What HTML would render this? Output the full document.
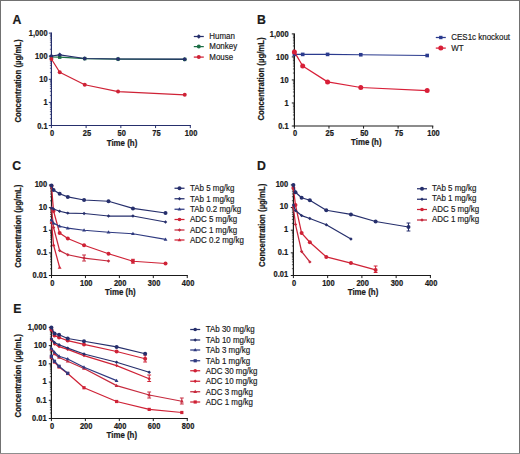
<!DOCTYPE html>
<html><head><meta charset="utf-8"><style>
html,body{margin:0;padding:0;background:#fff;}
body{width:520px;height:454px;overflow:hidden;}
svg{display:block;font-family:"Liberation Sans", sans-serif;}
</style></head><body>
<svg width="520" height="454" viewBox="0 0 520 454">
<rect x="0" y="0" width="520" height="454" fill="#fff"/>
<line x1="51.40" y1="32.60" x2="51.40" y2="126.10" stroke="#262f6c" stroke-width="1.2"/>
<line x1="50.80" y1="125.50" x2="190.90" y2="125.50" stroke="#262f6c" stroke-width="1.2"/>
<line x1="48.80" y1="125.50" x2="51.40" y2="125.50" stroke="#262f6c" stroke-width="1.0"/>
<line x1="49.90" y1="118.55" x2="51.40" y2="118.55" stroke="#262f6c" stroke-width="0.7"/>
<line x1="49.90" y1="114.48" x2="51.40" y2="114.48" stroke="#262f6c" stroke-width="0.7"/>
<line x1="49.90" y1="111.59" x2="51.40" y2="111.59" stroke="#262f6c" stroke-width="0.7"/>
<line x1="49.90" y1="109.35" x2="51.40" y2="109.35" stroke="#262f6c" stroke-width="0.7"/>
<line x1="49.90" y1="107.52" x2="51.40" y2="107.52" stroke="#262f6c" stroke-width="0.7"/>
<line x1="49.90" y1="105.98" x2="51.40" y2="105.98" stroke="#262f6c" stroke-width="0.7"/>
<line x1="49.90" y1="104.64" x2="51.40" y2="104.64" stroke="#262f6c" stroke-width="0.7"/>
<line x1="49.90" y1="103.46" x2="51.40" y2="103.46" stroke="#262f6c" stroke-width="0.7"/>
<line x1="48.80" y1="102.40" x2="51.40" y2="102.40" stroke="#262f6c" stroke-width="1.0"/>
<line x1="49.90" y1="95.45" x2="51.40" y2="95.45" stroke="#262f6c" stroke-width="0.7"/>
<line x1="49.90" y1="91.38" x2="51.40" y2="91.38" stroke="#262f6c" stroke-width="0.7"/>
<line x1="49.90" y1="88.49" x2="51.40" y2="88.49" stroke="#262f6c" stroke-width="0.7"/>
<line x1="49.90" y1="86.25" x2="51.40" y2="86.25" stroke="#262f6c" stroke-width="0.7"/>
<line x1="49.90" y1="84.42" x2="51.40" y2="84.42" stroke="#262f6c" stroke-width="0.7"/>
<line x1="49.90" y1="82.88" x2="51.40" y2="82.88" stroke="#262f6c" stroke-width="0.7"/>
<line x1="49.90" y1="81.54" x2="51.40" y2="81.54" stroke="#262f6c" stroke-width="0.7"/>
<line x1="49.90" y1="80.36" x2="51.40" y2="80.36" stroke="#262f6c" stroke-width="0.7"/>
<line x1="48.80" y1="79.30" x2="51.40" y2="79.30" stroke="#262f6c" stroke-width="1.0"/>
<line x1="49.90" y1="72.35" x2="51.40" y2="72.35" stroke="#262f6c" stroke-width="0.7"/>
<line x1="49.90" y1="68.28" x2="51.40" y2="68.28" stroke="#262f6c" stroke-width="0.7"/>
<line x1="49.90" y1="65.39" x2="51.40" y2="65.39" stroke="#262f6c" stroke-width="0.7"/>
<line x1="49.90" y1="63.15" x2="51.40" y2="63.15" stroke="#262f6c" stroke-width="0.7"/>
<line x1="49.90" y1="61.32" x2="51.40" y2="61.32" stroke="#262f6c" stroke-width="0.7"/>
<line x1="49.90" y1="59.78" x2="51.40" y2="59.78" stroke="#262f6c" stroke-width="0.7"/>
<line x1="49.90" y1="58.44" x2="51.40" y2="58.44" stroke="#262f6c" stroke-width="0.7"/>
<line x1="49.90" y1="57.26" x2="51.40" y2="57.26" stroke="#262f6c" stroke-width="0.7"/>
<line x1="48.80" y1="56.20" x2="51.40" y2="56.20" stroke="#262f6c" stroke-width="1.0"/>
<line x1="49.90" y1="49.25" x2="51.40" y2="49.25" stroke="#262f6c" stroke-width="0.7"/>
<line x1="49.90" y1="45.18" x2="51.40" y2="45.18" stroke="#262f6c" stroke-width="0.7"/>
<line x1="49.90" y1="42.29" x2="51.40" y2="42.29" stroke="#262f6c" stroke-width="0.7"/>
<line x1="49.90" y1="40.05" x2="51.40" y2="40.05" stroke="#262f6c" stroke-width="0.7"/>
<line x1="49.90" y1="38.22" x2="51.40" y2="38.22" stroke="#262f6c" stroke-width="0.7"/>
<line x1="49.90" y1="36.68" x2="51.40" y2="36.68" stroke="#262f6c" stroke-width="0.7"/>
<line x1="49.90" y1="35.34" x2="51.40" y2="35.34" stroke="#262f6c" stroke-width="0.7"/>
<line x1="49.90" y1="34.16" x2="51.40" y2="34.16" stroke="#262f6c" stroke-width="0.7"/>
<line x1="48.80" y1="33.10" x2="51.40" y2="33.10" stroke="#262f6c" stroke-width="1.0"/>
<line x1="51.40" y1="125.50" x2="51.40" y2="128.10" stroke="#262f6c" stroke-width="1.0"/>
<text transform="translate(52.20 135.50) scale(1 1.1)" x="0" y="0" font-size="7.5" font-weight="bold" text-anchor="middle" fill="#1a1a1a" stroke="#1a1a1a" stroke-width="0.2">0</text>
<line x1="86.12" y1="125.50" x2="86.12" y2="128.10" stroke="#262f6c" stroke-width="1.0"/>
<text transform="translate(86.92 135.50) scale(1 1.1)" x="0" y="0" font-size="7.5" font-weight="bold" text-anchor="middle" fill="#1a1a1a" stroke="#1a1a1a" stroke-width="0.2">25</text>
<line x1="120.85" y1="125.50" x2="120.85" y2="128.10" stroke="#262f6c" stroke-width="1.0"/>
<text transform="translate(121.65 135.50) scale(1 1.1)" x="0" y="0" font-size="7.5" font-weight="bold" text-anchor="middle" fill="#1a1a1a" stroke="#1a1a1a" stroke-width="0.2">50</text>
<line x1="155.57" y1="125.50" x2="155.57" y2="128.10" stroke="#262f6c" stroke-width="1.0"/>
<text transform="translate(156.38 135.50) scale(1 1.1)" x="0" y="0" font-size="7.5" font-weight="bold" text-anchor="middle" fill="#1a1a1a" stroke="#1a1a1a" stroke-width="0.2">75</text>
<line x1="190.30" y1="125.50" x2="190.30" y2="128.10" stroke="#262f6c" stroke-width="1.0"/>
<text transform="translate(191.10 135.50) scale(1 1.1)" x="0" y="0" font-size="7.5" font-weight="bold" text-anchor="middle" fill="#1a1a1a" stroke="#1a1a1a" stroke-width="0.2">100</text>
<text transform="translate(47.60 36.10) scale(1 1.1)" x="0" y="0" font-size="7.5" font-weight="bold" text-anchor="end" fill="#1a1a1a" stroke="#1a1a1a" stroke-width="0.2">1,000</text>
<text transform="translate(47.60 59.20) scale(1 1.1)" x="0" y="0" font-size="7.5" font-weight="bold" text-anchor="end" fill="#1a1a1a" stroke="#1a1a1a" stroke-width="0.2">100</text>
<text transform="translate(47.60 82.30) scale(1 1.1)" x="0" y="0" font-size="7.5" font-weight="bold" text-anchor="end" fill="#1a1a1a" stroke="#1a1a1a" stroke-width="0.2">10</text>
<text transform="translate(47.60 105.40) scale(1 1.1)" x="0" y="0" font-size="7.5" font-weight="bold" text-anchor="end" fill="#1a1a1a" stroke="#1a1a1a" stroke-width="0.2">1</text>
<text transform="translate(47.60 128.50) scale(1 1.1)" x="0" y="0" font-size="7.5" font-weight="bold" text-anchor="end" fill="#1a1a1a" stroke="#1a1a1a" stroke-width="0.2">0.1</text>
<path d="M51.40 57.00 L59.73 57.20 L84.74 58.60 L118.07 59.10 L184.74 59.40" fill="none" stroke="#1b6e45" stroke-width="1.25" stroke-linejoin="round"/>
<rect x="49.70" y="55.30" width="3.40" height="3.40" fill="#1b6e45"/>
<rect x="58.03" y="55.50" width="3.40" height="3.40" fill="#1b6e45"/>
<rect x="83.04" y="56.90" width="3.40" height="3.40" fill="#1b6e45"/>
<rect x="116.37" y="57.40" width="3.40" height="3.40" fill="#1b6e45"/>
<rect x="183.04" y="57.70" width="3.40" height="3.40" fill="#1b6e45"/>
<path d="M51.40 56.00 L59.73 54.80 L84.74 58.50 L118.07 59.00 L184.74 59.20" fill="none" stroke="#262f6c" stroke-width="1.25" stroke-linejoin="round"/>
<path d="M51.40 53.70L53.70 56.00L51.40 58.30L49.10 56.00Z" fill="#262f6c"/>
<path d="M59.73 52.50L62.03 54.80L59.73 57.10L57.43 54.80Z" fill="#262f6c"/>
<path d="M84.74 56.20L87.04 58.50L84.74 60.80L82.44 58.50Z" fill="#262f6c"/>
<path d="M118.07 56.70L120.37 59.00L118.07 61.30L115.77 59.00Z" fill="#262f6c"/>
<path d="M184.74 56.90L187.04 59.20L184.74 61.50L182.44 59.20Z" fill="#262f6c"/>
<path d="M51.40 59.00 L59.73 72.25 L84.74 84.75 L118.07 91.60 L184.74 94.80" fill="none" stroke="#cf2236" stroke-width="1.25" stroke-linejoin="round"/>
<circle cx="51.40" cy="59.00" r="2.0" fill="#cf2236"/>
<circle cx="59.73" cy="72.25" r="2.0" fill="#cf2236"/>
<circle cx="84.74" cy="84.75" r="2.0" fill="#cf2236"/>
<circle cx="118.07" cy="91.60" r="2.0" fill="#cf2236"/>
<circle cx="184.74" cy="94.80" r="2.0" fill="#cf2236"/>
<text transform="translate(12.60 24.00) scale(1 1.1)" x="0" y="0" font-size="12.3" font-weight="bold" text-anchor="start" fill="#1a1a1a" stroke="#1a1a1a" stroke-width="0.2">A</text>
<text transform="translate(20.90 80.90) rotate(-90) scale(1 1.1)" x="0" y="0" font-size="7.8" font-weight="bold" text-anchor="middle" fill="#1a1a1a" stroke="#1a1a1a" stroke-width="0.2">Concentration (µg/mL)</text>
<text transform="translate(122.00 145.50) scale(1 1.1)" x="0" y="0" font-size="7.9" font-weight="bold" text-anchor="middle" fill="#1a1a1a" stroke="#1a1a1a" stroke-width="0.2">Time (h)</text>
<line x1="193.80" y1="36.50" x2="203.80" y2="36.50" stroke="#262f6c" stroke-width="1.25"/>
<path d="M198.80 34.20L201.10 36.50L198.80 38.80L196.50 36.50Z" fill="#262f6c"/>
<text transform="translate(209.30 39.30) scale(1 1.06)" x="0" y="0" font-size="7.95" font-weight="normal" text-anchor="start" fill="#1a1a1a" stroke="#1a1a1a" stroke-width="0.16">Human</text>
<line x1="193.80" y1="46.60" x2="203.80" y2="46.60" stroke="#1b6e45" stroke-width="1.25"/>
<circle cx="198.80" cy="46.60" r="2.0" fill="#1b6e45"/>
<text transform="translate(209.30 49.40) scale(1 1.06)" x="0" y="0" font-size="7.95" font-weight="normal" text-anchor="start" fill="#1a1a1a" stroke="#1a1a1a" stroke-width="0.16">Monkey</text>
<line x1="193.80" y1="57.10" x2="203.80" y2="57.10" stroke="#cf2236" stroke-width="1.25"/>
<circle cx="198.80" cy="57.10" r="2.0" fill="#cf2236"/>
<text transform="translate(209.30 59.90) scale(1 1.06)" x="0" y="0" font-size="7.95" font-weight="normal" text-anchor="start" fill="#1a1a1a" stroke="#1a1a1a" stroke-width="0.16">Mouse</text>
<line x1="294.40" y1="33.40" x2="294.40" y2="126.60" stroke="#1a1a1a" stroke-width="1.2"/>
<line x1="293.80" y1="126.00" x2="433.30" y2="126.00" stroke="#1a1a1a" stroke-width="1.2"/>
<line x1="291.80" y1="126.00" x2="294.40" y2="126.00" stroke="#1a1a1a" stroke-width="1.0"/>
<line x1="292.90" y1="119.07" x2="294.40" y2="119.07" stroke="#1a1a1a" stroke-width="0.7"/>
<line x1="292.90" y1="115.01" x2="294.40" y2="115.01" stroke="#1a1a1a" stroke-width="0.7"/>
<line x1="292.90" y1="112.14" x2="294.40" y2="112.14" stroke="#1a1a1a" stroke-width="0.7"/>
<line x1="292.90" y1="109.91" x2="294.40" y2="109.91" stroke="#1a1a1a" stroke-width="0.7"/>
<line x1="292.90" y1="108.08" x2="294.40" y2="108.08" stroke="#1a1a1a" stroke-width="0.7"/>
<line x1="292.90" y1="106.54" x2="294.40" y2="106.54" stroke="#1a1a1a" stroke-width="0.7"/>
<line x1="292.90" y1="105.21" x2="294.40" y2="105.21" stroke="#1a1a1a" stroke-width="0.7"/>
<line x1="292.90" y1="104.03" x2="294.40" y2="104.03" stroke="#1a1a1a" stroke-width="0.7"/>
<line x1="291.80" y1="102.97" x2="294.40" y2="102.97" stroke="#1a1a1a" stroke-width="1.0"/>
<line x1="292.90" y1="96.04" x2="294.40" y2="96.04" stroke="#1a1a1a" stroke-width="0.7"/>
<line x1="292.90" y1="91.99" x2="294.40" y2="91.99" stroke="#1a1a1a" stroke-width="0.7"/>
<line x1="292.90" y1="89.11" x2="294.40" y2="89.11" stroke="#1a1a1a" stroke-width="0.7"/>
<line x1="292.90" y1="86.88" x2="294.40" y2="86.88" stroke="#1a1a1a" stroke-width="0.7"/>
<line x1="292.90" y1="85.06" x2="294.40" y2="85.06" stroke="#1a1a1a" stroke-width="0.7"/>
<line x1="292.90" y1="83.52" x2="294.40" y2="83.52" stroke="#1a1a1a" stroke-width="0.7"/>
<line x1="292.90" y1="82.18" x2="294.40" y2="82.18" stroke="#1a1a1a" stroke-width="0.7"/>
<line x1="292.90" y1="81.00" x2="294.40" y2="81.00" stroke="#1a1a1a" stroke-width="0.7"/>
<line x1="291.80" y1="79.95" x2="294.40" y2="79.95" stroke="#1a1a1a" stroke-width="1.0"/>
<line x1="292.90" y1="73.02" x2="294.40" y2="73.02" stroke="#1a1a1a" stroke-width="0.7"/>
<line x1="292.90" y1="68.96" x2="294.40" y2="68.96" stroke="#1a1a1a" stroke-width="0.7"/>
<line x1="292.90" y1="66.09" x2="294.40" y2="66.09" stroke="#1a1a1a" stroke-width="0.7"/>
<line x1="292.90" y1="63.86" x2="294.40" y2="63.86" stroke="#1a1a1a" stroke-width="0.7"/>
<line x1="292.90" y1="62.03" x2="294.40" y2="62.03" stroke="#1a1a1a" stroke-width="0.7"/>
<line x1="292.90" y1="60.49" x2="294.40" y2="60.49" stroke="#1a1a1a" stroke-width="0.7"/>
<line x1="292.90" y1="59.16" x2="294.40" y2="59.16" stroke="#1a1a1a" stroke-width="0.7"/>
<line x1="292.90" y1="57.98" x2="294.40" y2="57.98" stroke="#1a1a1a" stroke-width="0.7"/>
<line x1="291.80" y1="56.92" x2="294.40" y2="56.92" stroke="#1a1a1a" stroke-width="1.0"/>
<line x1="292.90" y1="49.99" x2="294.40" y2="49.99" stroke="#1a1a1a" stroke-width="0.7"/>
<line x1="292.90" y1="45.94" x2="294.40" y2="45.94" stroke="#1a1a1a" stroke-width="0.7"/>
<line x1="292.90" y1="43.06" x2="294.40" y2="43.06" stroke="#1a1a1a" stroke-width="0.7"/>
<line x1="292.90" y1="40.83" x2="294.40" y2="40.83" stroke="#1a1a1a" stroke-width="0.7"/>
<line x1="292.90" y1="39.01" x2="294.40" y2="39.01" stroke="#1a1a1a" stroke-width="0.7"/>
<line x1="292.90" y1="37.47" x2="294.40" y2="37.47" stroke="#1a1a1a" stroke-width="0.7"/>
<line x1="292.90" y1="36.13" x2="294.40" y2="36.13" stroke="#1a1a1a" stroke-width="0.7"/>
<line x1="292.90" y1="34.95" x2="294.40" y2="34.95" stroke="#1a1a1a" stroke-width="0.7"/>
<line x1="291.80" y1="33.90" x2="294.40" y2="33.90" stroke="#1a1a1a" stroke-width="1.0"/>
<line x1="294.40" y1="126.00" x2="294.40" y2="128.60" stroke="#1a1a1a" stroke-width="1.0"/>
<text transform="translate(295.20 136.00) scale(1 1.1)" x="0" y="0" font-size="7.5" font-weight="bold" text-anchor="middle" fill="#1a1a1a" stroke="#1a1a1a" stroke-width="0.2">0</text>
<line x1="328.97" y1="126.00" x2="328.97" y2="128.60" stroke="#1a1a1a" stroke-width="1.0"/>
<text transform="translate(329.77 136.00) scale(1 1.1)" x="0" y="0" font-size="7.5" font-weight="bold" text-anchor="middle" fill="#1a1a1a" stroke="#1a1a1a" stroke-width="0.2">25</text>
<line x1="363.55" y1="126.00" x2="363.55" y2="128.60" stroke="#1a1a1a" stroke-width="1.0"/>
<text transform="translate(364.35 136.00) scale(1 1.1)" x="0" y="0" font-size="7.5" font-weight="bold" text-anchor="middle" fill="#1a1a1a" stroke="#1a1a1a" stroke-width="0.2">50</text>
<line x1="398.12" y1="126.00" x2="398.12" y2="128.60" stroke="#1a1a1a" stroke-width="1.0"/>
<text transform="translate(398.93 136.00) scale(1 1.1)" x="0" y="0" font-size="7.5" font-weight="bold" text-anchor="middle" fill="#1a1a1a" stroke="#1a1a1a" stroke-width="0.2">75</text>
<line x1="432.70" y1="126.00" x2="432.70" y2="128.60" stroke="#1a1a1a" stroke-width="1.0"/>
<text transform="translate(433.50 136.00) scale(1 1.1)" x="0" y="0" font-size="7.5" font-weight="bold" text-anchor="middle" fill="#1a1a1a" stroke="#1a1a1a" stroke-width="0.2">100</text>
<text transform="translate(288.60 36.60) scale(1 1.1)" x="0" y="0" font-size="7.5" font-weight="bold" text-anchor="end" fill="#1a1a1a" stroke="#1a1a1a" stroke-width="0.2">1,000</text>
<text transform="translate(288.60 59.62) scale(1 1.1)" x="0" y="0" font-size="7.5" font-weight="bold" text-anchor="end" fill="#1a1a1a" stroke="#1a1a1a" stroke-width="0.2">100</text>
<text transform="translate(288.60 82.65) scale(1 1.1)" x="0" y="0" font-size="7.5" font-weight="bold" text-anchor="end" fill="#1a1a1a" stroke="#1a1a1a" stroke-width="0.2">10</text>
<text transform="translate(288.60 105.67) scale(1 1.1)" x="0" y="0" font-size="7.5" font-weight="bold" text-anchor="end" fill="#1a1a1a" stroke="#1a1a1a" stroke-width="0.2">1</text>
<text transform="translate(288.60 128.70) scale(1 1.1)" x="0" y="0" font-size="7.5" font-weight="bold" text-anchor="end" fill="#1a1a1a" stroke="#1a1a1a" stroke-width="0.2">0.1</text>
<path d="M294.40 54.40 L302.70 54.40 L327.59 54.40 L360.78 54.75 L427.17 55.50" fill="none" stroke="#2b3b8e" stroke-width="1.25" stroke-linejoin="round"/>
<rect x="292.60" y="52.60" width="3.60" height="3.60" fill="#2b3b8e"/>
<rect x="300.90" y="52.60" width="3.60" height="3.60" fill="#2b3b8e"/>
<rect x="325.79" y="52.60" width="3.60" height="3.60" fill="#2b3b8e"/>
<rect x="358.98" y="52.95" width="3.60" height="3.60" fill="#2b3b8e"/>
<rect x="425.37" y="53.70" width="3.60" height="3.60" fill="#2b3b8e"/>
<path d="M294.40 51.90 L302.70 66.00 L327.59 81.90 L360.78 87.50 L427.17 90.60" fill="none" stroke="#d81f38" stroke-width="1.25" stroke-linejoin="round"/>
<circle cx="294.40" cy="51.90" r="2.5" fill="#d81f38"/>
<circle cx="302.70" cy="66.00" r="2.5" fill="#d81f38"/>
<circle cx="327.59" cy="81.90" r="2.5" fill="#d81f38"/>
<circle cx="360.78" cy="87.50" r="2.5" fill="#d81f38"/>
<circle cx="427.17" cy="90.60" r="2.5" fill="#d81f38"/>
<text transform="translate(257.00 23.80) scale(1 1.1)" x="0" y="0" font-size="12.3" font-weight="bold" text-anchor="start" fill="#1a1a1a" stroke="#1a1a1a" stroke-width="0.2">B</text>
<text transform="translate(264.40 79.00) rotate(-90) scale(1 1.1)" x="0" y="0" font-size="7.8" font-weight="bold" text-anchor="middle" fill="#1a1a1a" stroke="#1a1a1a" stroke-width="0.2">Concentration (µg/mL)</text>
<text transform="translate(366.30 145.30) scale(1 1.1)" x="0" y="0" font-size="7.9" font-weight="bold" text-anchor="middle" fill="#1a1a1a" stroke="#1a1a1a" stroke-width="0.2">Time (h)</text>
<line x1="435.80" y1="37.50" x2="445.80" y2="37.50" stroke="#2b3b8e" stroke-width="1.25"/>
<rect x="439.10" y="35.80" width="3.40" height="3.40" fill="#2b3b8e"/>
<text transform="translate(451.30 40.30) scale(1 1.06)" x="0" y="0" font-size="7.95" font-weight="normal" text-anchor="start" fill="#1a1a1a" stroke="#1a1a1a" stroke-width="0.16">CES1c knockout</text>
<line x1="435.80" y1="48.10" x2="445.80" y2="48.10" stroke="#d81f38" stroke-width="1.25"/>
<circle cx="440.80" cy="48.10" r="2.5" fill="#d81f38"/>
<text transform="translate(451.30 50.90) scale(1 1.06)" x="0" y="0" font-size="7.95" font-weight="normal" text-anchor="start" fill="#1a1a1a" stroke="#1a1a1a" stroke-width="0.16">WT</text>
<line x1="51.50" y1="184.50" x2="51.50" y2="276.10" stroke="#1a1a1a" stroke-width="1.2"/>
<line x1="50.90" y1="275.50" x2="187.85" y2="275.50" stroke="#1a1a1a" stroke-width="1.2"/>
<line x1="48.90" y1="275.50" x2="51.50" y2="275.50" stroke="#1a1a1a" stroke-width="1.0"/>
<line x1="50.00" y1="268.69" x2="51.50" y2="268.69" stroke="#1a1a1a" stroke-width="0.7"/>
<line x1="50.00" y1="264.71" x2="51.50" y2="264.71" stroke="#1a1a1a" stroke-width="0.7"/>
<line x1="50.00" y1="261.88" x2="51.50" y2="261.88" stroke="#1a1a1a" stroke-width="0.7"/>
<line x1="50.00" y1="259.69" x2="51.50" y2="259.69" stroke="#1a1a1a" stroke-width="0.7"/>
<line x1="50.00" y1="257.89" x2="51.50" y2="257.89" stroke="#1a1a1a" stroke-width="0.7"/>
<line x1="50.00" y1="256.38" x2="51.50" y2="256.38" stroke="#1a1a1a" stroke-width="0.7"/>
<line x1="50.00" y1="255.07" x2="51.50" y2="255.07" stroke="#1a1a1a" stroke-width="0.7"/>
<line x1="50.00" y1="253.91" x2="51.50" y2="253.91" stroke="#1a1a1a" stroke-width="0.7"/>
<line x1="48.90" y1="252.88" x2="51.50" y2="252.88" stroke="#1a1a1a" stroke-width="1.0"/>
<line x1="50.00" y1="246.06" x2="51.50" y2="246.06" stroke="#1a1a1a" stroke-width="0.7"/>
<line x1="50.00" y1="242.08" x2="51.50" y2="242.08" stroke="#1a1a1a" stroke-width="0.7"/>
<line x1="50.00" y1="239.25" x2="51.50" y2="239.25" stroke="#1a1a1a" stroke-width="0.7"/>
<line x1="50.00" y1="237.06" x2="51.50" y2="237.06" stroke="#1a1a1a" stroke-width="0.7"/>
<line x1="50.00" y1="235.27" x2="51.50" y2="235.27" stroke="#1a1a1a" stroke-width="0.7"/>
<line x1="50.00" y1="233.75" x2="51.50" y2="233.75" stroke="#1a1a1a" stroke-width="0.7"/>
<line x1="50.00" y1="232.44" x2="51.50" y2="232.44" stroke="#1a1a1a" stroke-width="0.7"/>
<line x1="50.00" y1="231.29" x2="51.50" y2="231.29" stroke="#1a1a1a" stroke-width="0.7"/>
<line x1="48.90" y1="230.25" x2="51.50" y2="230.25" stroke="#1a1a1a" stroke-width="1.0"/>
<line x1="50.00" y1="223.44" x2="51.50" y2="223.44" stroke="#1a1a1a" stroke-width="0.7"/>
<line x1="50.00" y1="219.46" x2="51.50" y2="219.46" stroke="#1a1a1a" stroke-width="0.7"/>
<line x1="50.00" y1="216.63" x2="51.50" y2="216.63" stroke="#1a1a1a" stroke-width="0.7"/>
<line x1="50.00" y1="214.44" x2="51.50" y2="214.44" stroke="#1a1a1a" stroke-width="0.7"/>
<line x1="50.00" y1="212.64" x2="51.50" y2="212.64" stroke="#1a1a1a" stroke-width="0.7"/>
<line x1="50.00" y1="211.13" x2="51.50" y2="211.13" stroke="#1a1a1a" stroke-width="0.7"/>
<line x1="50.00" y1="209.82" x2="51.50" y2="209.82" stroke="#1a1a1a" stroke-width="0.7"/>
<line x1="50.00" y1="208.66" x2="51.50" y2="208.66" stroke="#1a1a1a" stroke-width="0.7"/>
<line x1="48.90" y1="207.62" x2="51.50" y2="207.62" stroke="#1a1a1a" stroke-width="1.0"/>
<line x1="50.00" y1="200.81" x2="51.50" y2="200.81" stroke="#1a1a1a" stroke-width="0.7"/>
<line x1="50.00" y1="196.83" x2="51.50" y2="196.83" stroke="#1a1a1a" stroke-width="0.7"/>
<line x1="50.00" y1="194.00" x2="51.50" y2="194.00" stroke="#1a1a1a" stroke-width="0.7"/>
<line x1="50.00" y1="191.81" x2="51.50" y2="191.81" stroke="#1a1a1a" stroke-width="0.7"/>
<line x1="50.00" y1="190.02" x2="51.50" y2="190.02" stroke="#1a1a1a" stroke-width="0.7"/>
<line x1="50.00" y1="188.50" x2="51.50" y2="188.50" stroke="#1a1a1a" stroke-width="0.7"/>
<line x1="50.00" y1="187.19" x2="51.50" y2="187.19" stroke="#1a1a1a" stroke-width="0.7"/>
<line x1="50.00" y1="186.04" x2="51.50" y2="186.04" stroke="#1a1a1a" stroke-width="0.7"/>
<line x1="48.90" y1="185.00" x2="51.50" y2="185.00" stroke="#1a1a1a" stroke-width="1.0"/>
<line x1="51.50" y1="275.50" x2="51.50" y2="278.10" stroke="#1a1a1a" stroke-width="1.0"/>
<text transform="translate(52.30 285.50) scale(1 1.1)" x="0" y="0" font-size="7.5" font-weight="bold" text-anchor="middle" fill="#1a1a1a" stroke="#1a1a1a" stroke-width="0.2">0</text>
<line x1="85.44" y1="275.50" x2="85.44" y2="278.10" stroke="#1a1a1a" stroke-width="1.0"/>
<text transform="translate(86.24 285.50) scale(1 1.1)" x="0" y="0" font-size="7.5" font-weight="bold" text-anchor="middle" fill="#1a1a1a" stroke="#1a1a1a" stroke-width="0.2">100</text>
<line x1="119.38" y1="275.50" x2="119.38" y2="278.10" stroke="#1a1a1a" stroke-width="1.0"/>
<text transform="translate(120.17 285.50) scale(1 1.1)" x="0" y="0" font-size="7.5" font-weight="bold" text-anchor="middle" fill="#1a1a1a" stroke="#1a1a1a" stroke-width="0.2">200</text>
<line x1="153.31" y1="275.50" x2="153.31" y2="278.10" stroke="#1a1a1a" stroke-width="1.0"/>
<text transform="translate(154.11 285.50) scale(1 1.1)" x="0" y="0" font-size="7.5" font-weight="bold" text-anchor="middle" fill="#1a1a1a" stroke="#1a1a1a" stroke-width="0.2">300</text>
<line x1="187.25" y1="275.50" x2="187.25" y2="278.10" stroke="#1a1a1a" stroke-width="1.0"/>
<text transform="translate(188.05 285.50) scale(1 1.1)" x="0" y="0" font-size="7.5" font-weight="bold" text-anchor="middle" fill="#1a1a1a" stroke="#1a1a1a" stroke-width="0.2">400</text>
<text transform="translate(47.20 187.10) scale(1 1.1)" x="0" y="0" font-size="7.5" font-weight="bold" text-anchor="end" fill="#1a1a1a" stroke="#1a1a1a" stroke-width="0.2">100</text>
<text transform="translate(47.20 209.72) scale(1 1.1)" x="0" y="0" font-size="7.5" font-weight="bold" text-anchor="end" fill="#1a1a1a" stroke="#1a1a1a" stroke-width="0.2">10</text>
<text transform="translate(47.20 232.35) scale(1 1.1)" x="0" y="0" font-size="7.5" font-weight="bold" text-anchor="end" fill="#1a1a1a" stroke="#1a1a1a" stroke-width="0.2">1</text>
<text transform="translate(47.20 254.97) scale(1 1.1)" x="0" y="0" font-size="7.5" font-weight="bold" text-anchor="end" fill="#1a1a1a" stroke="#1a1a1a" stroke-width="0.2">0.1</text>
<text transform="translate(47.20 277.60) scale(1 1.1)" x="0" y="0" font-size="7.5" font-weight="bold" text-anchor="end" fill="#1a1a1a" stroke="#1a1a1a" stroke-width="0.2">0.01</text>
<path d="M51.50 186.00 L53.54 211.00 L59.64 233.10 L67.79 238.50 L84.08 245.25 L108.52 253.75 L132.95 261.25 L165.53 263.50" fill="none" stroke="#cf2236" stroke-width="1.25" stroke-linejoin="round"/>
<line x1="132.95" y1="259.30" x2="132.95" y2="263.20" stroke="#cf2236" stroke-width="1.0"/>
<line x1="131.05" y1="259.30" x2="134.85" y2="259.30" stroke="#cf2236" stroke-width="1.0"/>
<line x1="131.05" y1="263.20" x2="134.85" y2="263.20" stroke="#cf2236" stroke-width="1.0"/>
<circle cx="51.50" cy="186.00" r="2.0" fill="#cf2236"/>
<circle cx="53.54" cy="211.00" r="2.0" fill="#cf2236"/>
<circle cx="59.64" cy="233.10" r="2.0" fill="#cf2236"/>
<circle cx="67.79" cy="238.50" r="2.0" fill="#cf2236"/>
<circle cx="84.08" cy="245.25" r="2.0" fill="#cf2236"/>
<circle cx="108.52" cy="253.75" r="2.0" fill="#cf2236"/>
<circle cx="132.95" cy="261.25" r="2.0" fill="#cf2236"/>
<circle cx="165.53" cy="263.50" r="2.0" fill="#cf2236"/>
<path d="M51.50 208.00 L53.54 227.50 L59.64 250.60 L67.79 254.75 L84.08 258.10 L108.52 261.00" fill="none" stroke="#c62a3e" stroke-width="1.25" stroke-linejoin="round"/>
<line x1="84.08" y1="255.00" x2="84.08" y2="261.00" stroke="#c62a3e" stroke-width="1.0"/>
<line x1="82.18" y1="255.00" x2="85.98" y2="255.00" stroke="#c62a3e" stroke-width="1.0"/>
<line x1="82.18" y1="261.00" x2="85.98" y2="261.00" stroke="#c62a3e" stroke-width="1.0"/>
<path d="M51.50 206.28L53.23 208.00L51.50 209.72L49.77 208.00Z" fill="#c62a3e"/>
<path d="M53.54 225.78L55.26 227.50L53.54 229.22L51.81 227.50Z" fill="#c62a3e"/>
<path d="M59.64 248.88L61.37 250.60L59.64 252.32L57.92 250.60Z" fill="#c62a3e"/>
<path d="M67.79 253.03L69.51 254.75L67.79 256.48L66.06 254.75Z" fill="#c62a3e"/>
<path d="M84.08 256.38L85.80 258.10L84.08 259.83L82.36 258.10Z" fill="#c62a3e"/>
<path d="M108.52 259.27L110.24 261.00L108.52 262.73L106.79 261.00Z" fill="#c62a3e"/>
<path d="M51.50 222.00 L53.54 245.00 L59.64 267.50" fill="none" stroke="#cf2236" stroke-width="1.25" stroke-linejoin="round"/>
<path d="M51.50 220.08L53.42 223.34L49.58 223.34Z" fill="#cf2236"/>
<path d="M53.54 243.08L55.46 246.34L51.62 246.34Z" fill="#cf2236"/>
<path d="M59.64 265.58L61.56 268.84L57.72 268.84Z" fill="#cf2236"/>
<path d="M51.50 185.50 L53.54 190.00 L59.64 193.75 L67.79 196.90 L84.08 200.00 L108.52 201.25 L132.95 208.40 L165.53 213.00" fill="none" stroke="#262f6c" stroke-width="1.25" stroke-linejoin="round"/>
<circle cx="51.50" cy="185.50" r="2.0" fill="#262f6c"/>
<circle cx="53.54" cy="190.00" r="2.0" fill="#262f6c"/>
<circle cx="59.64" cy="193.75" r="2.0" fill="#262f6c"/>
<circle cx="67.79" cy="196.90" r="2.0" fill="#262f6c"/>
<circle cx="84.08" cy="200.00" r="2.0" fill="#262f6c"/>
<circle cx="108.52" cy="201.25" r="2.0" fill="#262f6c"/>
<circle cx="132.95" cy="208.40" r="2.0" fill="#262f6c"/>
<circle cx="165.53" cy="213.00" r="2.0" fill="#262f6c"/>
<path d="M51.50 208.00 L53.54 209.00 L59.64 211.25 L67.79 213.10 L84.08 213.50 L108.52 216.00 L132.95 216.00 L165.53 222.00" fill="none" stroke="#262f6c" stroke-width="1.25" stroke-linejoin="round"/>
<path d="M51.50 206.28L53.23 208.00L51.50 209.72L49.77 208.00Z" fill="#262f6c"/>
<path d="M53.54 207.28L55.26 209.00L53.54 210.72L51.81 209.00Z" fill="#262f6c"/>
<path d="M59.64 209.53L61.37 211.25L59.64 212.97L57.92 211.25Z" fill="#262f6c"/>
<path d="M67.79 211.38L69.51 213.10L67.79 214.82L66.06 213.10Z" fill="#262f6c"/>
<path d="M84.08 211.78L85.80 213.50L84.08 215.22L82.36 213.50Z" fill="#262f6c"/>
<path d="M108.52 214.28L110.24 216.00L108.52 217.72L106.79 216.00Z" fill="#262f6c"/>
<path d="M132.95 214.28L134.67 216.00L132.95 217.72L131.22 216.00Z" fill="#262f6c"/>
<path d="M165.53 220.28L167.25 222.00L165.53 223.72L163.81 222.00Z" fill="#262f6c"/>
<path d="M51.50 220.00 L53.54 223.10 L59.64 226.25 L67.79 228.10 L84.08 230.25 L108.52 232.25 L132.95 233.75 L165.53 239.40" fill="none" stroke="#2f3a80" stroke-width="1.25" stroke-linejoin="round"/>
<path d="M51.50 218.08L53.42 221.34L49.58 221.34Z" fill="#2f3a80"/>
<path d="M53.54 221.18L55.46 224.44L51.62 224.44Z" fill="#2f3a80"/>
<path d="M59.64 224.33L61.56 227.59L57.72 227.59Z" fill="#2f3a80"/>
<path d="M67.79 226.18L69.71 229.44L65.87 229.44Z" fill="#2f3a80"/>
<path d="M84.08 228.33L86.00 231.59L82.16 231.59Z" fill="#2f3a80"/>
<path d="M108.52 230.33L110.44 233.59L106.59 233.59Z" fill="#2f3a80"/>
<path d="M132.95 231.83L134.87 235.09L131.03 235.09Z" fill="#2f3a80"/>
<path d="M165.53 237.48L167.45 240.74L163.61 240.74Z" fill="#2f3a80"/>
<text transform="translate(12.30 170.00) scale(1 1.1)" x="0" y="0" font-size="12.3" font-weight="bold" text-anchor="start" fill="#1a1a1a" stroke="#1a1a1a" stroke-width="0.2">C</text>
<text transform="translate(20.90 226.20) rotate(-90) scale(1 1.1)" x="0" y="0" font-size="7.8" font-weight="bold" text-anchor="middle" fill="#1a1a1a" stroke="#1a1a1a" stroke-width="0.2">Concentration (µg/mL)</text>
<text transform="translate(120.40 294.80) scale(1 1.1)" x="0" y="0" font-size="7.9" font-weight="bold" text-anchor="middle" fill="#1a1a1a" stroke="#1a1a1a" stroke-width="0.2">Time (h)</text>
<line x1="174.50" y1="188.25" x2="184.50" y2="188.25" stroke="#262f6c" stroke-width="1.25"/>
<circle cx="179.50" cy="188.25" r="2.0" fill="#262f6c"/>
<text transform="translate(190.00 191.05) scale(1 1.06)" x="0" y="0" font-size="7.95" font-weight="normal" text-anchor="start" fill="#1a1a1a" stroke="#1a1a1a" stroke-width="0.16">TAb 5 mg/kg</text>
<line x1="174.50" y1="198.75" x2="184.50" y2="198.75" stroke="#262f6c" stroke-width="1.25"/>
<path d="M179.50 197.03L181.22 198.75L179.50 200.47L177.78 198.75Z" fill="#262f6c"/>
<text transform="translate(190.00 201.55) scale(1 1.06)" x="0" y="0" font-size="7.95" font-weight="normal" text-anchor="start" fill="#1a1a1a" stroke="#1a1a1a" stroke-width="0.16">TAb 1 mg/kg</text>
<line x1="174.50" y1="209.25" x2="184.50" y2="209.25" stroke="#2f3a80" stroke-width="1.25"/>
<path d="M179.50 207.33L181.42 210.59L177.58 210.59Z" fill="#2f3a80"/>
<text transform="translate(190.00 212.05) scale(1 1.06)" x="0" y="0" font-size="7.95" font-weight="normal" text-anchor="start" fill="#1a1a1a" stroke="#1a1a1a" stroke-width="0.16">TAb 0.2 mg/kg</text>
<line x1="174.50" y1="219.50" x2="184.50" y2="219.50" stroke="#cf2236" stroke-width="1.25"/>
<circle cx="179.50" cy="219.50" r="1.8" fill="#cf2236"/>
<text transform="translate(190.00 222.30) scale(1 1.06)" x="0" y="0" font-size="7.95" font-weight="normal" text-anchor="start" fill="#1a1a1a" stroke="#1a1a1a" stroke-width="0.16">ADC 5 mg/kg</text>
<line x1="174.50" y1="230.00" x2="184.50" y2="230.00" stroke="#c62a3e" stroke-width="1.25"/>
<path d="M179.50 228.28L181.22 230.00L179.50 231.72L177.78 230.00Z" fill="#c62a3e"/>
<text transform="translate(190.00 232.80) scale(1 1.06)" x="0" y="0" font-size="7.95" font-weight="normal" text-anchor="start" fill="#1a1a1a" stroke="#1a1a1a" stroke-width="0.16">ADC 1 mg/kg</text>
<line x1="174.50" y1="240.00" x2="184.50" y2="240.00" stroke="#cf2236" stroke-width="1.25"/>
<path d="M179.50 238.08L181.42 241.34L177.58 241.34Z" fill="#cf2236"/>
<text transform="translate(190.00 242.80) scale(1 1.06)" x="0" y="0" font-size="7.95" font-weight="normal" text-anchor="start" fill="#1a1a1a" stroke="#1a1a1a" stroke-width="0.16">ADC 0.2 mg/kg</text>
<line x1="293.40" y1="184.40" x2="293.40" y2="276.10" stroke="#1a1a1a" stroke-width="1.2"/>
<line x1="292.80" y1="275.50" x2="431.00" y2="275.50" stroke="#1a1a1a" stroke-width="1.2"/>
<line x1="290.80" y1="275.50" x2="293.40" y2="275.50" stroke="#1a1a1a" stroke-width="1.0"/>
<line x1="291.90" y1="268.68" x2="293.40" y2="268.68" stroke="#1a1a1a" stroke-width="0.7"/>
<line x1="291.90" y1="264.69" x2="293.40" y2="264.69" stroke="#1a1a1a" stroke-width="0.7"/>
<line x1="291.90" y1="261.86" x2="293.40" y2="261.86" stroke="#1a1a1a" stroke-width="0.7"/>
<line x1="291.90" y1="259.67" x2="293.40" y2="259.67" stroke="#1a1a1a" stroke-width="0.7"/>
<line x1="291.90" y1="257.87" x2="293.40" y2="257.87" stroke="#1a1a1a" stroke-width="0.7"/>
<line x1="291.90" y1="256.36" x2="293.40" y2="256.36" stroke="#1a1a1a" stroke-width="0.7"/>
<line x1="291.90" y1="255.05" x2="293.40" y2="255.05" stroke="#1a1a1a" stroke-width="0.7"/>
<line x1="291.90" y1="253.89" x2="293.40" y2="253.89" stroke="#1a1a1a" stroke-width="0.7"/>
<line x1="290.80" y1="252.85" x2="293.40" y2="252.85" stroke="#1a1a1a" stroke-width="1.0"/>
<line x1="291.90" y1="246.03" x2="293.40" y2="246.03" stroke="#1a1a1a" stroke-width="0.7"/>
<line x1="291.90" y1="242.04" x2="293.40" y2="242.04" stroke="#1a1a1a" stroke-width="0.7"/>
<line x1="291.90" y1="239.21" x2="293.40" y2="239.21" stroke="#1a1a1a" stroke-width="0.7"/>
<line x1="291.90" y1="237.02" x2="293.40" y2="237.02" stroke="#1a1a1a" stroke-width="0.7"/>
<line x1="291.90" y1="235.22" x2="293.40" y2="235.22" stroke="#1a1a1a" stroke-width="0.7"/>
<line x1="291.90" y1="233.71" x2="293.40" y2="233.71" stroke="#1a1a1a" stroke-width="0.7"/>
<line x1="291.90" y1="232.40" x2="293.40" y2="232.40" stroke="#1a1a1a" stroke-width="0.7"/>
<line x1="291.90" y1="231.24" x2="293.40" y2="231.24" stroke="#1a1a1a" stroke-width="0.7"/>
<line x1="290.80" y1="230.20" x2="293.40" y2="230.20" stroke="#1a1a1a" stroke-width="1.0"/>
<line x1="291.90" y1="223.38" x2="293.40" y2="223.38" stroke="#1a1a1a" stroke-width="0.7"/>
<line x1="291.90" y1="219.39" x2="293.40" y2="219.39" stroke="#1a1a1a" stroke-width="0.7"/>
<line x1="291.90" y1="216.56" x2="293.40" y2="216.56" stroke="#1a1a1a" stroke-width="0.7"/>
<line x1="291.90" y1="214.37" x2="293.40" y2="214.37" stroke="#1a1a1a" stroke-width="0.7"/>
<line x1="291.90" y1="212.57" x2="293.40" y2="212.57" stroke="#1a1a1a" stroke-width="0.7"/>
<line x1="291.90" y1="211.06" x2="293.40" y2="211.06" stroke="#1a1a1a" stroke-width="0.7"/>
<line x1="291.90" y1="209.75" x2="293.40" y2="209.75" stroke="#1a1a1a" stroke-width="0.7"/>
<line x1="291.90" y1="208.59" x2="293.40" y2="208.59" stroke="#1a1a1a" stroke-width="0.7"/>
<line x1="290.80" y1="207.55" x2="293.40" y2="207.55" stroke="#1a1a1a" stroke-width="1.0"/>
<line x1="291.90" y1="200.73" x2="293.40" y2="200.73" stroke="#1a1a1a" stroke-width="0.7"/>
<line x1="291.90" y1="196.74" x2="293.40" y2="196.74" stroke="#1a1a1a" stroke-width="0.7"/>
<line x1="291.90" y1="193.91" x2="293.40" y2="193.91" stroke="#1a1a1a" stroke-width="0.7"/>
<line x1="291.90" y1="191.72" x2="293.40" y2="191.72" stroke="#1a1a1a" stroke-width="0.7"/>
<line x1="291.90" y1="189.92" x2="293.40" y2="189.92" stroke="#1a1a1a" stroke-width="0.7"/>
<line x1="291.90" y1="188.41" x2="293.40" y2="188.41" stroke="#1a1a1a" stroke-width="0.7"/>
<line x1="291.90" y1="187.10" x2="293.40" y2="187.10" stroke="#1a1a1a" stroke-width="0.7"/>
<line x1="291.90" y1="185.94" x2="293.40" y2="185.94" stroke="#1a1a1a" stroke-width="0.7"/>
<line x1="290.80" y1="184.90" x2="293.40" y2="184.90" stroke="#1a1a1a" stroke-width="1.0"/>
<line x1="293.40" y1="275.50" x2="293.40" y2="278.10" stroke="#1a1a1a" stroke-width="1.0"/>
<text transform="translate(294.20 285.50) scale(1 1.1)" x="0" y="0" font-size="7.5" font-weight="bold" text-anchor="middle" fill="#1a1a1a" stroke="#1a1a1a" stroke-width="0.2">0</text>
<line x1="327.65" y1="275.50" x2="327.65" y2="278.10" stroke="#1a1a1a" stroke-width="1.0"/>
<text transform="translate(328.45 285.50) scale(1 1.1)" x="0" y="0" font-size="7.5" font-weight="bold" text-anchor="middle" fill="#1a1a1a" stroke="#1a1a1a" stroke-width="0.2">100</text>
<line x1="361.90" y1="275.50" x2="361.90" y2="278.10" stroke="#1a1a1a" stroke-width="1.0"/>
<text transform="translate(362.70 285.50) scale(1 1.1)" x="0" y="0" font-size="7.5" font-weight="bold" text-anchor="middle" fill="#1a1a1a" stroke="#1a1a1a" stroke-width="0.2">200</text>
<line x1="396.15" y1="275.50" x2="396.15" y2="278.10" stroke="#1a1a1a" stroke-width="1.0"/>
<text transform="translate(396.95 285.50) scale(1 1.1)" x="0" y="0" font-size="7.5" font-weight="bold" text-anchor="middle" fill="#1a1a1a" stroke="#1a1a1a" stroke-width="0.2">300</text>
<line x1="430.40" y1="275.50" x2="430.40" y2="278.10" stroke="#1a1a1a" stroke-width="1.0"/>
<text transform="translate(431.20 285.50) scale(1 1.1)" x="0" y="0" font-size="7.5" font-weight="bold" text-anchor="middle" fill="#1a1a1a" stroke="#1a1a1a" stroke-width="0.2">400</text>
<text transform="translate(288.20 186.70) scale(1 1.1)" x="0" y="0" font-size="7.5" font-weight="bold" text-anchor="end" fill="#1a1a1a" stroke="#1a1a1a" stroke-width="0.2">100</text>
<text transform="translate(288.20 209.35) scale(1 1.1)" x="0" y="0" font-size="7.5" font-weight="bold" text-anchor="end" fill="#1a1a1a" stroke="#1a1a1a" stroke-width="0.2">10</text>
<text transform="translate(288.20 232.00) scale(1 1.1)" x="0" y="0" font-size="7.5" font-weight="bold" text-anchor="end" fill="#1a1a1a" stroke="#1a1a1a" stroke-width="0.2">1</text>
<text transform="translate(288.20 254.65) scale(1 1.1)" x="0" y="0" font-size="7.5" font-weight="bold" text-anchor="end" fill="#1a1a1a" stroke="#1a1a1a" stroke-width="0.2">0.1</text>
<text transform="translate(288.20 277.30) scale(1 1.1)" x="0" y="0" font-size="7.5" font-weight="bold" text-anchor="end" fill="#1a1a1a" stroke="#1a1a1a" stroke-width="0.2">0.01</text>
<path d="M293.40 188.00 L295.45 205.00 L301.62 233.10 L309.84 242.25 L326.28 256.90 L350.94 263.10 L375.60 269.90" fill="none" stroke="#cf2236" stroke-width="1.25" stroke-linejoin="round"/>
<line x1="375.60" y1="266.00" x2="375.60" y2="272.50" stroke="#cf2236" stroke-width="1.0"/>
<line x1="373.70" y1="266.00" x2="377.50" y2="266.00" stroke="#cf2236" stroke-width="1.0"/>
<line x1="373.70" y1="272.50" x2="377.50" y2="272.50" stroke="#cf2236" stroke-width="1.0"/>
<circle cx="293.40" cy="188.00" r="2.0" fill="#cf2236"/>
<circle cx="295.45" cy="205.00" r="2.0" fill="#cf2236"/>
<circle cx="301.62" cy="233.10" r="2.0" fill="#cf2236"/>
<circle cx="309.84" cy="242.25" r="2.0" fill="#cf2236"/>
<circle cx="326.28" cy="256.90" r="2.0" fill="#cf2236"/>
<circle cx="350.94" cy="263.10" r="2.0" fill="#cf2236"/>
<circle cx="375.60" cy="269.90" r="2.0" fill="#cf2236"/>
<path d="M293.40 207.00 L295.45 224.40 L301.62 251.50 L309.84 261.90" fill="none" stroke="#c62a3e" stroke-width="1.25" stroke-linejoin="round"/>
<path d="M293.40 205.28L295.12 207.00L293.40 208.72L291.67 207.00Z" fill="#c62a3e"/>
<path d="M295.45 222.68L297.18 224.40L295.45 226.12L293.73 224.40Z" fill="#c62a3e"/>
<path d="M301.62 249.78L303.35 251.50L301.62 253.22L299.89 251.50Z" fill="#c62a3e"/>
<path d="M309.84 260.17L311.56 261.90L309.84 263.62L308.11 261.90Z" fill="#c62a3e"/>
<path d="M293.40 185.00 L295.45 192.30 L301.62 197.75 L309.84 200.25 L326.28 210.25 L350.94 214.40 L375.60 221.50 L408.48 227.00" fill="none" stroke="#262f6c" stroke-width="1.25" stroke-linejoin="round"/>
<line x1="408.48" y1="223.00" x2="408.48" y2="231.00" stroke="#262f6c" stroke-width="1.0"/>
<line x1="406.58" y1="223.00" x2="410.38" y2="223.00" stroke="#262f6c" stroke-width="1.0"/>
<line x1="406.58" y1="231.00" x2="410.38" y2="231.00" stroke="#262f6c" stroke-width="1.0"/>
<circle cx="293.40" cy="185.00" r="2.0" fill="#262f6c"/>
<circle cx="295.45" cy="192.30" r="2.0" fill="#262f6c"/>
<circle cx="301.62" cy="197.75" r="2.0" fill="#262f6c"/>
<circle cx="309.84" cy="200.25" r="2.0" fill="#262f6c"/>
<circle cx="326.28" cy="210.25" r="2.0" fill="#262f6c"/>
<circle cx="350.94" cy="214.40" r="2.0" fill="#262f6c"/>
<circle cx="375.60" cy="221.50" r="2.0" fill="#262f6c"/>
<circle cx="408.48" cy="227.00" r="2.0" fill="#262f6c"/>
<path d="M293.40 205.00 L295.45 210.60 L301.62 215.60 L309.84 218.50 L326.28 224.75 L350.94 239.00" fill="none" stroke="#262f6c" stroke-width="1.25" stroke-linejoin="round"/>
<path d="M293.40 203.28L295.12 205.00L293.40 206.72L291.67 205.00Z" fill="#262f6c"/>
<path d="M295.45 208.88L297.18 210.60L295.45 212.32L293.73 210.60Z" fill="#262f6c"/>
<path d="M301.62 213.88L303.35 215.60L301.62 217.32L299.89 215.60Z" fill="#262f6c"/>
<path d="M309.84 216.78L311.56 218.50L309.84 220.22L308.11 218.50Z" fill="#262f6c"/>
<path d="M326.28 223.03L328.00 224.75L326.28 226.47L324.55 224.75Z" fill="#262f6c"/>
<path d="M350.94 237.28L352.67 239.00L350.94 240.72L349.21 239.00Z" fill="#262f6c"/>
<text transform="translate(257.00 170.00) scale(1 1.1)" x="0" y="0" font-size="12.3" font-weight="bold" text-anchor="start" fill="#1a1a1a" stroke="#1a1a1a" stroke-width="0.2">D</text>
<text transform="translate(264.60 225.30) rotate(-90) scale(1 1.1)" x="0" y="0" font-size="7.8" font-weight="bold" text-anchor="middle" fill="#1a1a1a" stroke="#1a1a1a" stroke-width="0.2">Concentration (µg/mL)</text>
<text transform="translate(363.00 294.80) scale(1 1.1)" x="0" y="0" font-size="7.9" font-weight="bold" text-anchor="middle" fill="#1a1a1a" stroke="#1a1a1a" stroke-width="0.2">Time (h)</text>
<line x1="417.00" y1="188.75" x2="427.00" y2="188.75" stroke="#262f6c" stroke-width="1.25"/>
<circle cx="422.00" cy="188.75" r="2.0" fill="#262f6c"/>
<text transform="translate(431.90 190.75) scale(1 1.06)" x="0" y="0" font-size="7.95" font-weight="normal" text-anchor="start" fill="#1a1a1a" stroke="#1a1a1a" stroke-width="0.16">TAb 5 mg/kg</text>
<line x1="417.00" y1="199.25" x2="427.00" y2="199.25" stroke="#262f6c" stroke-width="1.25"/>
<path d="M422.00 197.53L423.73 199.25L422.00 200.97L420.27 199.25Z" fill="#262f6c"/>
<text transform="translate(431.90 201.25) scale(1 1.06)" x="0" y="0" font-size="7.95" font-weight="normal" text-anchor="start" fill="#1a1a1a" stroke="#1a1a1a" stroke-width="0.16">TAb 1 mg/kg</text>
<line x1="417.00" y1="209.50" x2="427.00" y2="209.50" stroke="#cf2236" stroke-width="1.25"/>
<circle cx="422.00" cy="209.50" r="1.8" fill="#cf2236"/>
<text transform="translate(431.90 211.50) scale(1 1.06)" x="0" y="0" font-size="7.95" font-weight="normal" text-anchor="start" fill="#1a1a1a" stroke="#1a1a1a" stroke-width="0.16">ADC 5 mg/kg</text>
<line x1="417.00" y1="220.00" x2="427.00" y2="220.00" stroke="#c62a3e" stroke-width="1.25"/>
<path d="M422.00 218.28L423.73 220.00L422.00 221.72L420.27 220.00Z" fill="#c62a3e"/>
<text transform="translate(431.90 222.00) scale(1 1.06)" x="0" y="0" font-size="7.95" font-weight="normal" text-anchor="start" fill="#1a1a1a" stroke="#1a1a1a" stroke-width="0.16">ADC 1 mg/kg</text>
<line x1="51.40" y1="326.90" x2="51.40" y2="419.10" stroke="#1a1a1a" stroke-width="1.2"/>
<line x1="50.80" y1="418.50" x2="187.85" y2="418.50" stroke="#1a1a1a" stroke-width="1.2"/>
<line x1="48.80" y1="418.50" x2="51.40" y2="418.50" stroke="#1a1a1a" stroke-width="1.0"/>
<line x1="49.90" y1="413.02" x2="51.40" y2="413.02" stroke="#1a1a1a" stroke-width="0.7"/>
<line x1="49.90" y1="409.81" x2="51.40" y2="409.81" stroke="#1a1a1a" stroke-width="0.7"/>
<line x1="49.90" y1="407.53" x2="51.40" y2="407.53" stroke="#1a1a1a" stroke-width="0.7"/>
<line x1="49.90" y1="405.76" x2="51.40" y2="405.76" stroke="#1a1a1a" stroke-width="0.7"/>
<line x1="49.90" y1="404.32" x2="51.40" y2="404.32" stroke="#1a1a1a" stroke-width="0.7"/>
<line x1="49.90" y1="403.10" x2="51.40" y2="403.10" stroke="#1a1a1a" stroke-width="0.7"/>
<line x1="49.90" y1="402.05" x2="51.40" y2="402.05" stroke="#1a1a1a" stroke-width="0.7"/>
<line x1="49.90" y1="401.11" x2="51.40" y2="401.11" stroke="#1a1a1a" stroke-width="0.7"/>
<line x1="48.80" y1="400.28" x2="51.40" y2="400.28" stroke="#1a1a1a" stroke-width="1.0"/>
<line x1="49.90" y1="394.80" x2="51.40" y2="394.80" stroke="#1a1a1a" stroke-width="0.7"/>
<line x1="49.90" y1="391.59" x2="51.40" y2="391.59" stroke="#1a1a1a" stroke-width="0.7"/>
<line x1="49.90" y1="389.31" x2="51.40" y2="389.31" stroke="#1a1a1a" stroke-width="0.7"/>
<line x1="49.90" y1="387.54" x2="51.40" y2="387.54" stroke="#1a1a1a" stroke-width="0.7"/>
<line x1="49.90" y1="386.10" x2="51.40" y2="386.10" stroke="#1a1a1a" stroke-width="0.7"/>
<line x1="49.90" y1="384.88" x2="51.40" y2="384.88" stroke="#1a1a1a" stroke-width="0.7"/>
<line x1="49.90" y1="383.83" x2="51.40" y2="383.83" stroke="#1a1a1a" stroke-width="0.7"/>
<line x1="49.90" y1="382.89" x2="51.40" y2="382.89" stroke="#1a1a1a" stroke-width="0.7"/>
<line x1="48.80" y1="382.06" x2="51.40" y2="382.06" stroke="#1a1a1a" stroke-width="1.0"/>
<line x1="49.90" y1="376.58" x2="51.40" y2="376.58" stroke="#1a1a1a" stroke-width="0.7"/>
<line x1="49.90" y1="373.37" x2="51.40" y2="373.37" stroke="#1a1a1a" stroke-width="0.7"/>
<line x1="49.90" y1="371.09" x2="51.40" y2="371.09" stroke="#1a1a1a" stroke-width="0.7"/>
<line x1="49.90" y1="369.32" x2="51.40" y2="369.32" stroke="#1a1a1a" stroke-width="0.7"/>
<line x1="49.90" y1="367.88" x2="51.40" y2="367.88" stroke="#1a1a1a" stroke-width="0.7"/>
<line x1="49.90" y1="366.66" x2="51.40" y2="366.66" stroke="#1a1a1a" stroke-width="0.7"/>
<line x1="49.90" y1="365.61" x2="51.40" y2="365.61" stroke="#1a1a1a" stroke-width="0.7"/>
<line x1="49.90" y1="364.67" x2="51.40" y2="364.67" stroke="#1a1a1a" stroke-width="0.7"/>
<line x1="48.80" y1="363.84" x2="51.40" y2="363.84" stroke="#1a1a1a" stroke-width="1.0"/>
<line x1="49.90" y1="358.36" x2="51.40" y2="358.36" stroke="#1a1a1a" stroke-width="0.7"/>
<line x1="49.90" y1="355.15" x2="51.40" y2="355.15" stroke="#1a1a1a" stroke-width="0.7"/>
<line x1="49.90" y1="352.87" x2="51.40" y2="352.87" stroke="#1a1a1a" stroke-width="0.7"/>
<line x1="49.90" y1="351.10" x2="51.40" y2="351.10" stroke="#1a1a1a" stroke-width="0.7"/>
<line x1="49.90" y1="349.66" x2="51.40" y2="349.66" stroke="#1a1a1a" stroke-width="0.7"/>
<line x1="49.90" y1="348.44" x2="51.40" y2="348.44" stroke="#1a1a1a" stroke-width="0.7"/>
<line x1="49.90" y1="347.39" x2="51.40" y2="347.39" stroke="#1a1a1a" stroke-width="0.7"/>
<line x1="49.90" y1="346.45" x2="51.40" y2="346.45" stroke="#1a1a1a" stroke-width="0.7"/>
<line x1="48.80" y1="345.62" x2="51.40" y2="345.62" stroke="#1a1a1a" stroke-width="1.0"/>
<line x1="49.90" y1="340.14" x2="51.40" y2="340.14" stroke="#1a1a1a" stroke-width="0.7"/>
<line x1="49.90" y1="336.93" x2="51.40" y2="336.93" stroke="#1a1a1a" stroke-width="0.7"/>
<line x1="49.90" y1="334.65" x2="51.40" y2="334.65" stroke="#1a1a1a" stroke-width="0.7"/>
<line x1="49.90" y1="332.88" x2="51.40" y2="332.88" stroke="#1a1a1a" stroke-width="0.7"/>
<line x1="49.90" y1="331.44" x2="51.40" y2="331.44" stroke="#1a1a1a" stroke-width="0.7"/>
<line x1="49.90" y1="330.22" x2="51.40" y2="330.22" stroke="#1a1a1a" stroke-width="0.7"/>
<line x1="49.90" y1="329.17" x2="51.40" y2="329.17" stroke="#1a1a1a" stroke-width="0.7"/>
<line x1="49.90" y1="328.23" x2="51.40" y2="328.23" stroke="#1a1a1a" stroke-width="0.7"/>
<line x1="48.80" y1="327.40" x2="51.40" y2="327.40" stroke="#1a1a1a" stroke-width="1.0"/>
<line x1="51.40" y1="418.50" x2="51.40" y2="421.10" stroke="#1a1a1a" stroke-width="1.0"/>
<text transform="translate(52.20 428.50) scale(1 1.1)" x="0" y="0" font-size="7.5" font-weight="bold" text-anchor="middle" fill="#1a1a1a" stroke="#1a1a1a" stroke-width="0.2">0</text>
<line x1="85.36" y1="418.50" x2="85.36" y2="421.10" stroke="#1a1a1a" stroke-width="1.0"/>
<text transform="translate(86.16 428.50) scale(1 1.1)" x="0" y="0" font-size="7.5" font-weight="bold" text-anchor="middle" fill="#1a1a1a" stroke="#1a1a1a" stroke-width="0.2">200</text>
<line x1="119.32" y1="418.50" x2="119.32" y2="421.10" stroke="#1a1a1a" stroke-width="1.0"/>
<text transform="translate(120.12 428.50) scale(1 1.1)" x="0" y="0" font-size="7.5" font-weight="bold" text-anchor="middle" fill="#1a1a1a" stroke="#1a1a1a" stroke-width="0.2">400</text>
<line x1="153.29" y1="418.50" x2="153.29" y2="421.10" stroke="#1a1a1a" stroke-width="1.0"/>
<text transform="translate(154.09 428.50) scale(1 1.1)" x="0" y="0" font-size="7.5" font-weight="bold" text-anchor="middle" fill="#1a1a1a" stroke="#1a1a1a" stroke-width="0.2">600</text>
<line x1="187.25" y1="418.50" x2="187.25" y2="421.10" stroke="#1a1a1a" stroke-width="1.0"/>
<text transform="translate(188.05 428.50) scale(1 1.1)" x="0" y="0" font-size="7.5" font-weight="bold" text-anchor="middle" fill="#1a1a1a" stroke="#1a1a1a" stroke-width="0.2">800</text>
<text transform="translate(46.60 329.80) scale(1 1.1)" x="0" y="0" font-size="7.5" font-weight="bold" text-anchor="end" fill="#1a1a1a" stroke="#1a1a1a" stroke-width="0.2">1,000</text>
<text transform="translate(46.60 348.02) scale(1 1.1)" x="0" y="0" font-size="7.5" font-weight="bold" text-anchor="end" fill="#1a1a1a" stroke="#1a1a1a" stroke-width="0.2">100</text>
<text transform="translate(46.60 366.24) scale(1 1.1)" x="0" y="0" font-size="7.5" font-weight="bold" text-anchor="end" fill="#1a1a1a" stroke="#1a1a1a" stroke-width="0.2">10</text>
<text transform="translate(46.60 384.46) scale(1 1.1)" x="0" y="0" font-size="7.5" font-weight="bold" text-anchor="end" fill="#1a1a1a" stroke="#1a1a1a" stroke-width="0.2">1</text>
<text transform="translate(46.60 402.68) scale(1 1.1)" x="0" y="0" font-size="7.5" font-weight="bold" text-anchor="end" fill="#1a1a1a" stroke="#1a1a1a" stroke-width="0.2">0.1</text>
<text transform="translate(46.60 420.90) scale(1 1.1)" x="0" y="0" font-size="7.5" font-weight="bold" text-anchor="end" fill="#1a1a1a" stroke="#1a1a1a" stroke-width="0.2">0.01</text>
<path d="M51.40 357.25 L54.46 362.00 L59.04 367.00 L67.70 373.50 L84.00 387.75 L116.61 401.50 L149.21 409.40 L181.82 412.50" fill="none" stroke="#cf2236" stroke-width="1.25" stroke-linejoin="round"/>
<rect x="49.80" y="355.65" width="3.20" height="3.20" fill="#cf2236"/>
<rect x="52.86" y="360.40" width="3.20" height="3.20" fill="#cf2236"/>
<rect x="57.44" y="365.40" width="3.20" height="3.20" fill="#cf2236"/>
<rect x="66.10" y="371.90" width="3.20" height="3.20" fill="#cf2236"/>
<rect x="82.40" y="386.15" width="3.20" height="3.20" fill="#cf2236"/>
<rect x="115.01" y="399.90" width="3.20" height="3.20" fill="#cf2236"/>
<rect x="147.61" y="407.80" width="3.20" height="3.20" fill="#cf2236"/>
<rect x="180.22" y="410.90" width="3.20" height="3.20" fill="#cf2236"/>
<path d="M51.40 349.10 L54.46 354.00 L59.04 357.50 L67.70 361.25 L84.00 368.50 L116.61 385.60 L149.21 395.00 L181.82 401.25" fill="none" stroke="#c62a3e" stroke-width="1.25" stroke-linejoin="round"/>
<line x1="149.21" y1="392.00" x2="149.21" y2="398.00" stroke="#c62a3e" stroke-width="1.0"/>
<line x1="147.31" y1="392.00" x2="151.11" y2="392.00" stroke="#c62a3e" stroke-width="1.0"/>
<line x1="147.31" y1="398.00" x2="151.11" y2="398.00" stroke="#c62a3e" stroke-width="1.0"/>
<line x1="181.82" y1="398.00" x2="181.82" y2="404.00" stroke="#c62a3e" stroke-width="1.0"/>
<line x1="179.92" y1="398.00" x2="183.72" y2="398.00" stroke="#c62a3e" stroke-width="1.0"/>
<line x1="179.92" y1="404.00" x2="183.72" y2="404.00" stroke="#c62a3e" stroke-width="1.0"/>
<path d="M51.40 347.18L53.32 350.44L49.48 350.44Z" fill="#c62a3e"/>
<path d="M54.46 352.08L56.38 355.34L52.54 355.34Z" fill="#c62a3e"/>
<path d="M59.04 355.58L60.96 358.84L57.12 358.84Z" fill="#c62a3e"/>
<path d="M67.70 359.33L69.62 362.59L65.78 362.59Z" fill="#c62a3e"/>
<path d="M84.00 366.58L85.92 369.84L82.08 369.84Z" fill="#c62a3e"/>
<path d="M116.61 383.68L118.53 386.94L114.69 386.94Z" fill="#c62a3e"/>
<path d="M149.21 393.08L151.13 396.34L147.29 396.34Z" fill="#c62a3e"/>
<path d="M181.82 399.33L183.74 402.59L179.90 402.59Z" fill="#c62a3e"/>
<path d="M51.40 339.75 L54.46 344.00 L59.04 346.60 L67.70 349.40 L84.00 355.60 L116.61 365.60 L149.21 378.75" fill="none" stroke="#cf2236" stroke-width="1.25" stroke-linejoin="round"/>
<line x1="149.21" y1="375.00" x2="149.21" y2="381.50" stroke="#cf2236" stroke-width="1.0"/>
<line x1="147.31" y1="375.00" x2="151.11" y2="375.00" stroke="#cf2236" stroke-width="1.0"/>
<line x1="147.31" y1="381.50" x2="151.11" y2="381.50" stroke="#cf2236" stroke-width="1.0"/>
<path d="M51.40 338.02L53.12 339.75L51.40 341.48L49.67 339.75Z" fill="#cf2236"/>
<path d="M54.46 342.27L56.18 344.00L54.46 345.73L52.73 344.00Z" fill="#cf2236"/>
<path d="M59.04 344.88L60.77 346.60L59.04 348.33L57.32 346.60Z" fill="#cf2236"/>
<path d="M67.70 347.67L69.43 349.40L67.70 351.12L65.98 349.40Z" fill="#cf2236"/>
<path d="M84.00 353.88L85.73 355.60L84.00 357.33L82.28 355.60Z" fill="#cf2236"/>
<path d="M116.61 363.88L118.33 365.60L116.61 367.33L114.88 365.60Z" fill="#cf2236"/>
<path d="M149.21 377.02L150.94 378.75L149.21 380.48L147.49 378.75Z" fill="#cf2236"/>
<path d="M51.40 329.50 L54.46 335.50 L59.04 337.50 L67.70 340.60 L84.00 344.40 L116.61 351.50 L145.14 358.75" fill="none" stroke="#cf2236" stroke-width="1.25" stroke-linejoin="round"/>
<line x1="145.14" y1="355.00" x2="145.14" y2="362.00" stroke="#cf2236" stroke-width="1.0"/>
<line x1="143.24" y1="355.00" x2="147.04" y2="355.00" stroke="#cf2236" stroke-width="1.0"/>
<line x1="143.24" y1="362.00" x2="147.04" y2="362.00" stroke="#cf2236" stroke-width="1.0"/>
<circle cx="51.40" cy="329.50" r="2.0" fill="#cf2236"/>
<circle cx="54.46" cy="335.50" r="2.0" fill="#cf2236"/>
<circle cx="59.04" cy="337.50" r="2.0" fill="#cf2236"/>
<circle cx="67.70" cy="340.60" r="2.0" fill="#cf2236"/>
<circle cx="84.00" cy="344.40" r="2.0" fill="#cf2236"/>
<circle cx="116.61" cy="351.50" r="2.0" fill="#cf2236"/>
<circle cx="145.14" cy="358.75" r="2.0" fill="#cf2236"/>
<path d="M51.40 356.25 L54.46 361.25 L59.04 366.25 L67.70 373.30" fill="none" stroke="#2f3a80" stroke-width="1.25" stroke-linejoin="round"/>
<rect x="49.80" y="354.65" width="3.20" height="3.20" fill="#2f3a80"/>
<rect x="52.86" y="359.65" width="3.20" height="3.20" fill="#2f3a80"/>
<rect x="57.44" y="364.65" width="3.20" height="3.20" fill="#2f3a80"/>
<rect x="66.10" y="371.70" width="3.20" height="3.20" fill="#2f3a80"/>
<path d="M51.40 348.10 L54.46 352.25 L59.04 356.25 L67.70 359.00 L84.00 367.25 L116.61 380.60" fill="none" stroke="#2f3a80" stroke-width="1.25" stroke-linejoin="round"/>
<path d="M51.40 346.18L53.32 349.44L49.48 349.44Z" fill="#2f3a80"/>
<path d="M54.46 350.33L56.38 353.59L52.54 353.59Z" fill="#2f3a80"/>
<path d="M59.04 354.33L60.96 357.59L57.12 357.59Z" fill="#2f3a80"/>
<path d="M67.70 357.08L69.62 360.34L65.78 360.34Z" fill="#2f3a80"/>
<path d="M84.00 365.33L85.92 368.59L82.08 368.59Z" fill="#2f3a80"/>
<path d="M116.61 378.68L118.53 381.94L114.69 381.94Z" fill="#2f3a80"/>
<path d="M51.40 338.75 L54.46 342.50 L59.04 344.75 L67.70 348.10 L84.00 354.00 L116.61 362.25 L149.21 372.25" fill="none" stroke="#262f6c" stroke-width="1.25" stroke-linejoin="round"/>
<path d="M51.40 337.02L53.12 338.75L51.40 340.48L49.67 338.75Z" fill="#262f6c"/>
<path d="M54.46 340.77L56.18 342.50L54.46 344.23L52.73 342.50Z" fill="#262f6c"/>
<path d="M59.04 343.02L60.77 344.75L59.04 346.48L57.32 344.75Z" fill="#262f6c"/>
<path d="M67.70 346.38L69.43 348.10L67.70 349.83L65.98 348.10Z" fill="#262f6c"/>
<path d="M84.00 352.27L85.73 354.00L84.00 355.73L82.28 354.00Z" fill="#262f6c"/>
<path d="M116.61 360.52L118.33 362.25L116.61 363.98L114.88 362.25Z" fill="#262f6c"/>
<path d="M149.21 370.52L150.94 372.25L149.21 373.98L147.49 372.25Z" fill="#262f6c"/>
<path d="M51.40 327.50 L54.46 333.50 L59.04 334.75 L67.70 338.50 L84.00 341.25 L116.61 346.90 L145.14 353.75" fill="none" stroke="#262f6c" stroke-width="1.25" stroke-linejoin="round"/>
<circle cx="51.40" cy="327.50" r="2.0" fill="#262f6c"/>
<circle cx="54.46" cy="333.50" r="2.0" fill="#262f6c"/>
<circle cx="59.04" cy="334.75" r="2.0" fill="#262f6c"/>
<circle cx="67.70" cy="338.50" r="2.0" fill="#262f6c"/>
<circle cx="84.00" cy="341.25" r="2.0" fill="#262f6c"/>
<circle cx="116.61" cy="346.90" r="2.0" fill="#262f6c"/>
<circle cx="145.14" cy="353.75" r="2.0" fill="#262f6c"/>
<text transform="translate(13.20 313.20) scale(1 1.1)" x="0" y="0" font-size="12.3" font-weight="bold" text-anchor="start" fill="#1a1a1a" stroke="#1a1a1a" stroke-width="0.2">E</text>
<text transform="translate(20.90 375.80) rotate(-90) scale(1 1.1)" x="0" y="0" font-size="7.8" font-weight="bold" text-anchor="middle" fill="#1a1a1a" stroke="#1a1a1a" stroke-width="0.2">Concentration (µg/mL)</text>
<text transform="translate(121.80 437.60) scale(1 1.1)" x="0" y="0" font-size="7.9" font-weight="bold" text-anchor="middle" fill="#1a1a1a" stroke="#1a1a1a" stroke-width="0.2">Time (h)</text>
<line x1="190.20" y1="329.50" x2="200.20" y2="329.50" stroke="#262f6c" stroke-width="1.25"/>
<circle cx="195.20" cy="329.50" r="1.8" fill="#262f6c"/>
<text transform="translate(205.75 332.30) scale(1 1.06)" x="0" y="0" font-size="7.95" font-weight="normal" text-anchor="start" fill="#1a1a1a" stroke="#1a1a1a" stroke-width="0.16">TAb 30 mg/kg</text>
<line x1="190.20" y1="340.00" x2="200.20" y2="340.00" stroke="#262f6c" stroke-width="1.25"/>
<path d="M195.20 338.27L196.92 340.00L195.20 341.73L193.47 340.00Z" fill="#262f6c"/>
<text transform="translate(205.75 342.80) scale(1 1.06)" x="0" y="0" font-size="7.95" font-weight="normal" text-anchor="start" fill="#1a1a1a" stroke="#1a1a1a" stroke-width="0.16">TAb 10 mg/kg</text>
<line x1="190.20" y1="350.00" x2="200.20" y2="350.00" stroke="#2f3a80" stroke-width="1.25"/>
<path d="M195.20 348.08L197.12 351.34L193.28 351.34Z" fill="#2f3a80"/>
<text transform="translate(205.75 352.80) scale(1 1.06)" x="0" y="0" font-size="7.95" font-weight="normal" text-anchor="start" fill="#1a1a1a" stroke="#1a1a1a" stroke-width="0.16">TAb 3 mg/kg</text>
<line x1="190.20" y1="360.75" x2="200.20" y2="360.75" stroke="#2f3a80" stroke-width="1.25"/>
<rect x="193.60" y="359.15" width="3.20" height="3.20" fill="#2f3a80"/>
<text transform="translate(205.75 363.55) scale(1 1.06)" x="0" y="0" font-size="7.95" font-weight="normal" text-anchor="start" fill="#1a1a1a" stroke="#1a1a1a" stroke-width="0.16">TAb 1 mg/kg</text>
<line x1="190.20" y1="370.75" x2="200.20" y2="370.75" stroke="#cf2236" stroke-width="1.25"/>
<circle cx="195.20" cy="370.75" r="1.8" fill="#cf2236"/>
<text transform="translate(205.75 373.55) scale(1 1.06)" x="0" y="0" font-size="7.95" font-weight="normal" text-anchor="start" fill="#1a1a1a" stroke="#1a1a1a" stroke-width="0.16">ADC 30 mg/kg</text>
<line x1="190.20" y1="381.25" x2="200.20" y2="381.25" stroke="#cf2236" stroke-width="1.25"/>
<path d="M195.20 379.52L196.92 381.25L195.20 382.98L193.47 381.25Z" fill="#cf2236"/>
<text transform="translate(205.75 384.05) scale(1 1.06)" x="0" y="0" font-size="7.95" font-weight="normal" text-anchor="start" fill="#1a1a1a" stroke="#1a1a1a" stroke-width="0.16">ADC 10 mg/kg</text>
<line x1="190.20" y1="391.75" x2="200.20" y2="391.75" stroke="#c62a3e" stroke-width="1.25"/>
<path d="M195.20 389.83L197.12 393.09L193.28 393.09Z" fill="#c62a3e"/>
<text transform="translate(205.75 394.55) scale(1 1.06)" x="0" y="0" font-size="7.95" font-weight="normal" text-anchor="start" fill="#1a1a1a" stroke="#1a1a1a" stroke-width="0.16">ADC 3 mg/kg</text>
<line x1="190.20" y1="402.00" x2="200.20" y2="402.00" stroke="#cf2236" stroke-width="1.25"/>
<rect x="193.60" y="400.40" width="3.20" height="3.20" fill="#cf2236"/>
<text transform="translate(205.75 404.80) scale(1 1.06)" x="0" y="0" font-size="7.95" font-weight="normal" text-anchor="start" fill="#1a1a1a" stroke="#1a1a1a" stroke-width="0.16">ADC 1 mg/kg</text>
<rect x="0" y="0" width="520" height="1" fill="#717171"/><rect x="0" y="0" width="1" height="454" fill="#717171"/><rect x="519" y="0" width="1" height="454" fill="#717171"/><rect x="0" y="453" width="520" height="1" fill="#8e8e8e"/>
</svg>
</body></html>
